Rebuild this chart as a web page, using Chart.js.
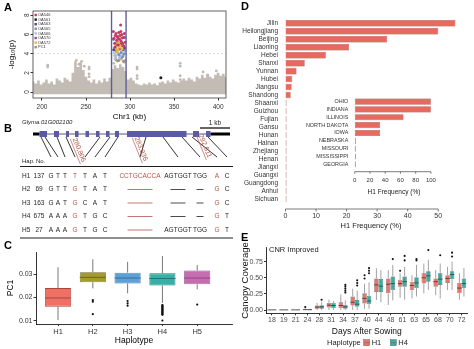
<!DOCTYPE html>
<html>
<head>
<meta charset="utf-8">
<script src="https://cdn.jsdelivr.net/npm/chart.js@4.4.1/dist/chart.umd.min.js"></script>
<style>
html,body{margin:0;padding:0;background:#fff;}
body{width:474px;height:349px;overflow:hidden;position:relative;font-family:"Liberation Sans",Arial,sans-serif;}
.pn{position:absolute;}
.pn canvas{display:block;}
.lbl{position:absolute;font-weight:bold;font-size:11px;line-height:11px;color:#000;}
</style>
</head>
<body>
<div class="pn" style="left:0;top:0"><canvas id="cA" width="236" height="122"></canvas></div>
<div class="pn" style="left:0;top:118px"><canvas id="cB" width="240" height="125"></canvas></div>
<div class="pn" style="left:0;top:240px"><canvas id="cC" width="240" height="109"></canvas></div>
<div class="pn" style="left:240px;top:0"><canvas id="cD" width="234" height="232"></canvas></div>
<div class="pn" style="left:270px;top:88px"><canvas id="cD2" width="175" height="112"></canvas></div>
<div class="pn" style="left:240px;top:232px"><canvas id="cE" width="234" height="117"></canvas></div>
<div class="lbl" style="left:4px;top:2px">A</div>
<div class="lbl" style="left:4px;top:123px">B</div>
<div class="lbl" style="left:4px;top:240px">C</div>
<div class="lbl" style="left:241px;top:1px">D</div>
<div class="lbl" style="left:241px;top:232px">E</div>
<script>
// ===================== DATA =====================
// Panel A
const A_XTICKS = [200, 250, 300, 350, 400];
const A_YTICKS = [0, 2, 4, 6, 8];
const A_REGION = [279, 295.5];
const A_THRESH = 4;
const A_LEGEND = ['OA546','OA561','OA563','OA565','OA566','OA570','OA572','PC1'];
const A_COLORS = ['#c23b67','#1b1b1b','#4d4a6e','#7f8fb5','#a9c1e2','#7a5aa8','#f2b33a','#a1916a'];
const A_BAND_KB = [190,193,196,199,202,205,208,211,214,217,220,223,226,229,232,235,238,241,244,247,250,253,256,259,262,265,268,271,274,277,280,283,286,289,292,295,298,301,304,307,310,313,316,319,322,325,328,331,334,337,340,343,346,349,352,355,358,361,364,367,370,373,376,379,382,385,388,391,394,397,400,403,406,409];
const A_BAND_P  = [1.1,0.9,1.2,0.8,1.0,1.3,0.9,1.1,0.8,1.4,1.2,1.0,1.5,1.3,1.1,2.0,3.2,2.6,3.1,2.3,1.6,1.2,1.0,1.3,0.9,1.2,1.0,1.4,1.1,1.5,2.4,2.8,2.5,2.9,2.6,2.2,1.3,1.5,1.2,0.9,0.8,0.7,0.9,0.8,1.0,0.8,0.9,0.7,1.0,1.1,0.9,1.2,1.0,1.3,1.1,1.0,1.2,1.4,1.2,1.5,1.3,1.1,1.6,1.4,1.8,1.5,1.9,1.6,1.4,1.8,2.0,1.7,1.9,1.6];
const A_GREY_KB = [206.5,206.5,239,242,245,248,253.5,253.5,253.5,253.5,281.5,283.5,285.5,287.5,289.5,291.5,293.5,282.5,286.5,290.5,294.5,308,308,308,308,357,357,357,357,388.5,383,398];
const A_GREY_P  = [2.8,2.6,3.3,2.9,3.2,2.7,2.6,2.4,1.9,1.6,3.0,3.6,3.2,3.9,3.4,3.7,3.1,3.8,4.0,3.5,3.3,2.6,2.4,1.7,1.4,3.0,2.7,1.7,1.3,1.7,2.1,2.2];
const A_OA546_KB = [281.0,281.8,282.6,283.3,284.1,284.9,285.6,286.4,287.2,288.0,288.8,289.3,289.9,290.6,291.4,292.1,292.9,293.6,294.4,283.0,286.0,289.5,291.0];
const A_OA546_P  = [6.3,5.6,5.1,5.9,6.1,5.4,5.8,4.9,6.2,5.5,5.9,7.0,5.3,6.0,5.1,5.7,4.8,6.1,5.2,4.7,5.7,6.3,5.0];
const A_OA561_KB = [335.0,289.0];
const A_OA561_P  = [1.5,5.0];
const A_OA563_KB = [281.5,293.8];
const A_OA563_P  = [4.4,4.6];
const A_OA565_KB = [284.5,287.5,289.8,291.7,293.2];
const A_OA565_P  = [4.3,3.9,4.1,3.7,4.0];
const A_OA566_KB = [282.2,283.9,285.8,287.9,290.2,292.3,294.1,283.1,289.0];
const A_OA566_P  = [4.1,3.8,4.0,3.6,4.2,3.9,4.3,3.5,3.7];
const A_OA570_KB = [281.2,282.4,284.3,286.2,288.3,290.4,292.2,293.9,291.2,285.0];
const A_OA570_P  = [5.5,4.6,5.0,5.2,4.5,5.6,4.4,5.7,4.8,4.9];
const A_OA572_KB = [283.2,284.2,285.1,286.1,287.0,288.0,288.9,289.8,290.8,291.9,285.5,288.2,286.8];
const A_OA572_P  = [5.0,4.6,5.3,4.4,5.1,4.7,5.5,4.9,4.5,5.0,4.2,5.9,5.6];
const A_PC1_KB = [284.0,287.0,290.0,292.6];
const A_PC1_P  = [3.4,3.3,3.6,3.2];

// Panel B (gene model in bp, table content)
const B_GENE_ID = 'Glyma.01G002100';
const B_UTR = [[0,217],[5917,6567]];
const B_EXONS = [[217,467],[700,867],[1100,1200],[1400,1517],[1750,1867],[2100,2217],[2433,2550],[2733,2867],[3133,5117],[5333,5533],[5767,5917]];
const B_SCALE = [5567,6567];
const B_LINK_BP = [267,400,800,1100,2233,2567,2833,3767,4333,4967,5300,5833];
const B_SNP_COL = [3,7,10];
const B_SNP_LABELS = ['280,806','283,836','292,611'];
const B_HEADER = ['Hap.','No.'];
const B_HAPS = ['H1','H2','H3','H4','H5'];
const B_COUNTS = ['137','69','163','675','27'];
const B_ALLELES = [
  ['G','T','T','T','T','A','T','CCTGCACCA','AGTGGT','TGG','A','C'],
  ['G','T','T','G','T','A','T','-','-','-','G','C'],
  ['G','A','T','G','C','A','T','-','-','-','G','C'],
  ['A','A','A','G','T','G','C','-','-','-','G','T'],
  ['A','A','A','G','T','G','C','-','AGTGGT','TGG','G','T']
];

// Panel C: [lower whisker, Q1, median, Q3, upper whisker]
const C_HAPS = ['H1','H2','H3','H4','H5'];
const C_STATS = [
  [0.0104,0.0161,0.0198,0.0240,0.0329],
  [0.0239,0.0265,0.0286,0.0308,0.0363],
  [0.0218,0.0260,0.0283,0.0306,0.0352],
  [0.0177,0.0251,0.0281,0.0303,0.0377],
  [0.0235,0.0256,0.0283,0.0315,0.0338]
];
const C_OUT_H1 = [];
const C_OUT_H2 = [0.0189,0.0182,0.0129];
const C_OUT_H3 = [0.0185,0.0175,0.0165];
const C_OUT_H4 = [0.0168,0.0165,0.0162,0.0159,0.0156,0.0153,0.0150,0.0147,0.0144,0.0141,0.0138,0.0135,0.0132,0.0129,0.0126,0.0102];
const C_OUT_H5 = [0.0170];
const C_YTICKS = [0.01,0.02,0.03];

// Panel D
const D_PROV = ['Jilin','Heilongjiang','Beijing','Liaoning','Hebei','Shanxi','Yunnan','Hubei','Jiangsu','Shandong','Shaanxi','Guizhou','Fujian','Gansu','Hunan','Hainan','Zhejiang','Henan','Jiangxi','Guangxi','Guangdong','Anhui','Sichuan'];
const D_FREQ = [55.6,50.0,33.3,20.8,13.2,6.3,3.6,2.2,2.0,1.7,0,0,0,0,0,0,0,0,0,0,0,0,0];
const D_TICKS = [0,10,20,30,40,50];
const D_STATES = ['OHIO','INDIANA','ILLINOIS','NORTH DAKOTA','IOWA','NEBRASKA','MISSOURI','MISSISSIPPI','GEORGIA'];
const D_STATE_FREQ = [100,100,64,33.3,33.3,0,0,0,0];
const D_STATE_TICKS = [0,20,40,60,80,100];

// Panel E: [lower whisker, Q1, median, Q3, upper whisker]
const E_DAYS = ['18','19','21','24','28','31','34','37','40','44','48','61','63','65','68','70','72'];
const E_YTICKS = [0,0.25,0.5,0.75];
const E_H1 = [
  [0,0,0.002,0.006,0.012],[0,0,0.002,0.006,0.012],[0,0,0.002,0.006,0.012],[0,0.002,0.006,0.012,0.025],
  [0,0.02,0.045,0.07,0.11],[0,0.04,0.075,0.11,0.16],[0,0.03,0.07,0.12,0.24],[0,0.07,0.12,0.21,0.33],
  [0.02,0.10,0.18,0.26,0.41],[0.155,0.28,0.39,0.49,0.647],[0.078,0.26,0.40,0.49,0.62],[0.19,0.36,0.41,0.47,0.57],
  [0.18,0.31,0.38,0.44,0.54],[0.26,0.41,0.50,0.57,0.72],[0.23,0.36,0.44,0.49,0.62],[0.31,0.42,0.49,0.54,0.67],
  [0.16,0.26,0.34,0.42,0.57]
];
const E_H1_OUT = [[],[],[],[0.045],[],[],[],[],[0.49,0.54],[],[],[0.61],[],[],[],[],[]];
const E_H4 = [
  [0,0,0.002,0.006,0.012],[0,0,0.002,0.006,0.012],[0,0,0.002,0.006,0.012],[0,0.001,0.004,0.01,0.02],
  [0,0.02,0.05,0.075,0.12],[0,0.03,0.07,0.11,0.14],[0,0.02,0.05,0.08,0.15],[0,0.05,0.09,0.155,0.30],
  [0.02,0.09,0.14,0.22,0.43],[0.12,0.28,0.37,0.48,0.62],[0.15,0.31,0.41,0.52,0.70],[0.16,0.36,0.44,0.52,0.67],
  [0.21,0.34,0.42,0.51,0.70],[0.31,0.44,0.53,0.60,0.78],[0.18,0.39,0.48,0.57,0.72],[0.31,0.48,0.55,0.60,0.75],
  [0.21,0.34,0.41,0.49,0.65]
];
const E_H4_OUT = [[],[],[],[],[0.16],[],[0.27,0.30,0.33,0.36,0.39],[0.38,0.42,0.46],[0.57,0.61,0.65],[],[0.79],[0.77,0.84],[0.77,0.79],[0.93],[0.85],[0.83,0.89],[]];

// ===================== SETUP =====================
const F = '"Liberation Sans", Arial, sans-serif';
Chart.defaults.font.family = F;
Chart.defaults.color = '#333';
Chart.defaults.animation = false;
Chart.defaults.responsive = false;
Chart.defaults.plugins.legend.display = false;
Chart.defaults.plugins.tooltip.enabled = false;

const pts = (xs, ys) => xs.map((x, i) => ({x: x, y: ys[i]}));

// generic box & whisker drawing on top of floating bars
const boxPlugin = {
  id: 'boxPlugin',
  beforeDatasetsDraw(chart) {
    const ctx = chart.ctx, ys = chart.scales.y;
    chart.data.datasets.forEach((ds, di) => {
      if (!ds.stats) return;
      const meta = chart.getDatasetMeta(di);
      ctx.save();
      ctx.strokeStyle = ds.whiskerColor; ctx.lineWidth = ds.whiskerWidth;
      meta.data.forEach((el, i) => {
        const s = ds.stats[i];
        ctx.beginPath();
        ctx.moveTo(el.x, ys.getPixelForValue(s[0])); ctx.lineTo(el.x, ys.getPixelForValue(s[1]));
        ctx.moveTo(el.x, ys.getPixelForValue(s[3])); ctx.lineTo(el.x, ys.getPixelForValue(s[4]));
        ctx.stroke();
      });
      ctx.restore();
    });
  },
  afterDatasetsDraw(chart) {
    const ctx = chart.ctx, ys = chart.scales.y;
    chart.data.datasets.forEach((ds, di) => {
      if (!ds.stats) return;
      const meta = chart.getDatasetMeta(di);
      ctx.save();
      meta.data.forEach((el, i) => {
        const s = ds.stats[i];
        const w = el.width;
        const ym = ys.getPixelForValue(s[2]);
        ctx.strokeStyle = Array.isArray(ds.medianColor) ? ds.medianColor[i] : ds.medianColor;
        ctx.lineWidth = ds.medianWidth;
        ctx.beginPath(); ctx.moveTo(el.x - w / 2, ym); ctx.lineTo(el.x + w / 2, ym); ctx.stroke();
        ctx.fillStyle = ds.outlierColor;
        (ds.outliers[i] || []).forEach(v => {
          ctx.beginPath(); ctx.arc(el.x, ys.getPixelForValue(v), ds.outlierRadius, 0, Math.PI * 2); ctx.fill();
        });
      });
      ctx.restore();
    });
  }
};

// ===================== PANEL A =====================
const aPlugin = {
  id: 'aPlugin',
  beforeDatasetsDraw(chart) {
    const {ctx, chartArea: ca, scales: {x, y}} = chart;
    ctx.save();
    ctx.strokeStyle = '#cfcfcf'; ctx.lineWidth = 0.8; ctx.setLineDash([2, 2]);
    const yt = y.getPixelForValue(A_THRESH);
    ctx.beginPath(); ctx.moveTo(ca.left, yt); ctx.lineTo(ca.right, yt); ctx.stroke();
    ctx.restore();
  },
  afterDatasetsDraw(chart) {
    const {ctx, chartArea: ca, scales: {x, y}} = chart;
    ctx.save();
    ctx.strokeStyle = '#5d5d9e'; ctx.lineWidth = 1.4;
    A_REGION.forEach(v => {
      const px = x.getPixelForValue(v);
      ctx.beginPath(); ctx.moveTo(px, ca.top); ctx.lineTo(px, ca.bottom); ctx.stroke();
    });
    ctx.strokeStyle = '#3d3d3d'; ctx.lineWidth = 0.8;
    ctx.strokeRect(ca.left, ca.top, ca.right - ca.left, ca.bottom - ca.top);
    // legend
    ctx.font = '4px ' + F; ctx.textBaseline = 'middle'; ctx.textAlign = 'left';
    A_LEGEND.forEach((name, i) => {
      const yy = ca.top + 4 + i * 4.6;
      ctx.fillStyle = A_COLORS[i]; ctx.fillRect(ca.left + 1.5, yy - 1.2, 2.4, 2.4);
      ctx.fillStyle = '#333'; ctx.fillText(name, ca.left + 5, yy);
    });
    ctx.restore();
  }
};
const aSeries = [
  ['OA546', A_OA546_KB, A_OA546_P, 0], ['OA572', A_OA572_KB, A_OA572_P, 6], ['OA570', A_OA570_KB, A_OA570_P, 5],
  ['OA561', A_OA561_KB, A_OA561_P, 1], ['OA563', A_OA563_KB, A_OA563_P, 2], ['OA565', A_OA565_KB, A_OA565_P, 3],
  ['OA566', A_OA566_KB, A_OA566_P, 4], ['PC1', A_PC1_KB, A_PC1_P, 7]
];
const aDatasets = aSeries.map(s => ({
  label: s[0], data: pts(s[1], s[2]), pointRadius: 1.5, pointBorderWidth: 0,
  pointBackgroundColor: A_COLORS[s[3]], showLine: false
}));
aDatasets.push({label: 'grey', data: pts(A_GREY_KB, A_GREY_P), pointRadius: 1.4, pointBorderWidth: 0, pointBackgroundColor: '#c0b9b1', showLine: false});
aDatasets.push({label: 'band', data: pts(A_BAND_KB, A_BAND_P), showLine: true, stepped: 'middle', borderWidth: 0, pointRadius: 0,
  backgroundColor: '#c3bcb4', fill: {value: -0.22}});
new Chart(document.getElementById('cA'), {
  type: 'scatter',
  data: {datasets: aDatasets},
  options: {
    layout: {padding: {left: 0, right: 10, top: 11, bottom: 0}},
    scales: {
      x: {type: 'linear', min: 189.8, max: 409,
        afterBuildTicks: s => { s.ticks = A_XTICKS.map(v => ({value: v})); },
        ticks: {font: {size: 6.5}, color: '#333', padding: 3, maxRotation: 0, autoSkip: false},
        grid: {drawOnChartArea: false, tickLength: 2.5, color: '#333'},
        border: {display: false},
        title: {display: true, text: 'Chr1 (kb)', font: {size: 8}, color: '#000', padding: {top: 0, bottom: 0}},
        afterFit: s => { s.height = 24; }},
      y: {type: 'linear', min: -0.62, max: 8.45,
        afterBuildTicks: s => { s.ticks = A_YTICKS.map(v => ({value: v})); },
        ticks: {font: {size: 6.5}, color: '#333', padding: 1.5, minRotation: 90, maxRotation: 90, crossAlign: 'center'},
        grid: {drawOnChartArea: false, tickLength: 2.5, color: '#333'},
        border: {display: false},
        title: {display: true, text: '-log\u2081\u2080(p)', font: {size: 8}, color: '#000', padding: {top: 7, bottom: 0}},
        afterFit: s => { s.width = 33; }}
    }
  },
  plugins: [aPlugin]
});

// ===================== PANEL B =====================
const GENE_Y = 16, SB_Y = 10;
const segs = (pairs, yv) => pairs.flatMap(p => [{x: p[0], y: yv}, {x: p[1], y: yv}, {x: p[1], y: null}]);
const bPlugin = {
  id: 'bPlugin',
  afterDatasetsDraw(chart) {
    const {ctx, scales: {x: xs, y: ys}} = chart;
    const colX = [51, 58, 65, 75, 85, 95, 105, 140, 178, 200, 217, 227];
    const dashW = [0, 0, 0, 0, 0, 0, 0, 25, 15, 7, 0, 0];
    const brown = '#b0564c', ink = '#1e1e1e';
    ctx.save();
    ctx.textBaseline = 'middle';
    ctx.fillStyle = ink;
    ctx.font = 'italic 6px ' + F; ctx.textAlign = 'left';
    ctx.fillText(B_GENE_ID, 22, 4.5);
    ctx.font = '6.5px ' + F; ctx.textAlign = 'center';
    ctx.fillText('1 kb', (xs.getPixelForValue(B_SCALE[0]) + xs.getPixelForValue(B_SCALE[1])) / 2, 5);
    // connectors
    const yTop = ys.getPixelForValue(GENE_Y) + 3, yBot = 39;
    ctx.lineWidth = 0.9; ctx.strokeStyle = ink;
    B_LINK_BP.forEach((bp, i) => {
      ctx.beginPath(); ctx.moveTo(xs.getPixelForValue(bp), yTop); ctx.lineTo(colX[i], yBot); ctx.stroke();
    });
    // SNP position labels
    const labPos = [[79, 32], [141, 31], [205, 28]];
    ctx.font = '7px ' + F; ctx.fillStyle = brown; ctx.strokeStyle = brown; ctx.lineWidth = 0.6;
    B_SNP_LABELS.forEach((t, i) => {
      ctx.save();
      ctx.translate(labPos[i][0], labPos[i][1]);
      ctx.rotate(68 * Math.PI / 180);
      ctx.textAlign = 'center';
      ctx.fillText(t, 0, 0);
      const w = ctx.measureText(t).width;
      ctx.beginPath(); ctx.moveTo(-w / 2 - 1, 4); ctx.lineTo(w / 2 + 1, 4); ctx.stroke();
      ctx.restore();
    });
    // header and rules
    ctx.fillStyle = ink; ctx.textAlign = 'left'; ctx.font = '6px ' + F;
    ctx.fillText(B_HEADER[0], 22, 43);
    ctx.fillText(B_HEADER[1], 36, 43);
    ctx.strokeStyle = ink; ctx.lineWidth = 1;
    ctx.beginPath(); ctx.moveTo(20, 48.5); ctx.lineTo(233, 48.5); ctx.moveTo(20, 120); ctx.lineTo(233, 120); ctx.stroke();
    // rows
    const rowY = [58, 71.5, 85, 98.5, 112];
    ctx.font = '6.5px ' + F;
    B_HAPS.forEach((h, r) => {
      const yy = rowY[r];
      ctx.fillStyle = ink; ctx.textAlign = 'left'; ctx.fillText(h, 22, yy);
      ctx.textAlign = 'center'; ctx.fillText(B_COUNTS[r], 39, yy);
      B_ALLELES[r].forEach((a, c) => {
        const col = B_SNP_COL.includes(c) ? brown : ink;
        if (a === '-') {
          ctx.strokeStyle = col; ctx.lineWidth = 0.8;
          ctx.beginPath(); ctx.moveTo(colX[c] - dashW[c] / 2, yy); ctx.lineTo(colX[c] + dashW[c] / 2, yy); ctx.stroke();
        } else {
          ctx.fillStyle = col; ctx.fillText(a, colX[c], yy);
        }
      });
    });
    ctx.restore();
  }
};
new Chart(document.getElementById('cB'), {
  type: 'line',
  data: {datasets: [
    {data: segs(B_EXONS, GENE_Y), borderColor: '#5b5aa6', borderWidth: 6, borderCapStyle: 'butt', pointRadius: 0, spanGaps: false},
    {data: segs(B_UTR, GENE_Y), borderColor: '#000', borderWidth: 3.2, borderCapStyle: 'butt', pointRadius: 0, spanGaps: false},
    {data: [{x: B_UTR[0][0], y: GENE_Y}, {x: B_UTR[1][1], y: GENE_Y}], borderColor: '#2d2d55', borderWidth: 0.8, pointRadius: 0},
    {data: [{x: B_SCALE[0], y: SB_Y}, {x: B_SCALE[1], y: SB_Y}], borderColor: '#000', borderWidth: 1.2, pointRadius: 0}
  ]},
  options: {
    layout: {padding: 0},
    scales: {
      x: {type: 'linear', display: false, min: -1100, max: 6900},
      y: {type: 'linear', display: false, min: 0, max: 125, reverse: true}
    }
  },
  plugins: [bPlugin]
});

// ===================== PANEL C =====================
const C_FILL = ['#ef7166', '#a39c2c', '#5ba0d6', '#36b0a7', '#c86cb1'];
const C_LINE = ['#a9473f', '#6c671a', '#3a6d99', '#23786f', '#8b4a7c'];
new Chart(document.getElementById('cC'), {
  type: 'bar',
  data: {datasets: [{
    data: C_STATS.map((s, i) => ({x: i + 1, y: [s[1], s[3]]})),
    backgroundColor: C_FILL, borderColor: C_LINE, borderWidth: 0.8, borderSkipped: false,
    barPercentage: 0.75, categoryPercentage: 1,
    stats: C_STATS, outliers: [C_OUT_H1, C_OUT_H2, C_OUT_H3, C_OUT_H4, C_OUT_H5],
    whiskerColor: '#555', whiskerWidth: 0.8, medianColor: C_LINE, medianWidth: 1, outlierColor: '#111', outlierRadius: 1.1
  }]},
  options: {
    layout: {padding: {top: 12, right: 8, left: 0, bottom: 0}},
    scales: {
      x: {type: 'linear', min: 0.367, max: 6.0, offset: false,
        afterBuildTicks: s => { s.ticks = C_HAPS.map((h, i) => ({value: i + 1})); },
        ticks: {callback: v => C_HAPS[v - 1], font: {size: 7.5}, color: '#333', padding: 1.5, autoSkip: false, maxRotation: 0},
        grid: {drawOnChartArea: false, tickLength: 2, color: '#333', offset: false},
        border: {color: '#000', width: 0.8},
        title: {display: true, text: 'Haplotype', font: {size: 8.5}, color: '#000', padding: {top: 0, bottom: 3.5}},
        afterFit: s => { s.height = 25; }},
      y: {type: 'linear', min: 0.0087, max: 0.0394,
        afterBuildTicks: s => { s.ticks = C_YTICKS.map(v => ({value: v})); },
        ticks: {callback: v => v.toFixed(2), font: {size: 7}, color: '#333', padding: 1},
        grid: {drawOnChartArea: false, tickLength: 2.5, color: '#333'},
        border: {color: '#000', width: 0.8},
        title: {display: true, text: 'PC1', font: {size: 8.5}, color: '#000', padding: {top: 6, bottom: 0}},
        afterFit: s => { s.width = 36; }}
    }
  },
  plugins: [boxPlugin]
});

// ===================== PANEL D =====================
function lemonAxis(ticks, off, len) {
  return {
    id: 'lemon',
    afterDraw(chart) {
      const ctx = chart.ctx, xs = chart.scales.x, y = chart.chartArea.bottom + off;
      ctx.save(); ctx.strokeStyle = '#444'; ctx.lineWidth = 0.7;
      ctx.beginPath();
      ctx.moveTo(xs.getPixelForValue(ticks[0]), y); ctx.lineTo(xs.getPixelForValue(ticks[ticks.length - 1]), y);
      ticks.forEach(v => { const p = xs.getPixelForValue(v); ctx.moveTo(p, y); ctx.lineTo(p, y + len); });
      ctx.stroke(); ctx.restore();
    }
  };
}
function hbarOptions(xmax, ticks, tickFont, labFont, titleFont, tickPad, labPad, titlePadB, padTop, padRight, yw, xh) {
  return {
    indexAxis: 'y',
    layout: {padding: {top: padTop, right: padRight, left: 0, bottom: 0}},
    scales: {
      x: {type: 'linear', min: 0, max: xmax,
        afterBuildTicks: s => { s.ticks = ticks.map(v => ({value: v})); },
        ticks: {font: {size: tickFont}, color: '#333', padding: tickPad, maxRotation: 0, autoSkip: false},
        grid: {display: false, drawTicks: false},
        border: {display: false},
        title: {display: true, text: 'H1 Frequency (%)', font: {size: titleFont}, color: '#222', padding: {top: 0, bottom: titlePadB}},
        afterFit: s => { s.height = xh; }},
      y: {type: 'category', offset: true,
        ticks: {font: {size: labFont}, color: '#333', padding: labPad, autoSkip: false},
        grid: {display: false, drawTicks: false},
        border: {display: false},
        afterFit: s => { s.width = yw; }}
    }
  };
}
new Chart(document.getElementById('cD'), {
  type: 'bar',
  data: {labels: D_PROV, datasets: [{data: D_FREQ, backgroundColor: '#e8695e', borderColor: '#8e3f39', borderWidth: 0.5,
    borderSkipped: false, barPercentage: 0.82, categoryPercentage: 1, minBarLength: 1}]},
  options: hbarOptions(56, D_TICKS, 7, 6.5, 7.5, 9.5, 7.5, 1.9, 19.3, 17.4, 45.5, 29.3),
  plugins: [lemonAxis(D_TICKS, 6.3, 2.5)]
});
new Chart(document.getElementById('cD2'), {
  type: 'bar',
  data: {labels: D_STATES, datasets: [{data: D_STATE_FREQ, backgroundColor: '#e8695e', borderColor: '#8e3f39', borderWidth: 0.5,
    borderSkipped: false, barPercentage: 0.78, categoryPercentage: 1, minBarLength: 1}]},
  options: hbarOptions(103, D_STATE_TICKS, 6, 5.4, 6.5, 8.8, 6.4, 4.1, 3.4, 9.3, 84.7, 31.7),
  plugins: [lemonAxis(D_STATE_TICKS, 3.4, 2)]
});

// ===================== PANEL E =====================
const E_COL_H1 = '#ea7469', E_COL_H4 = '#33b0a4';
const ePlugin = {
  id: 'ePlugin',
  afterDraw(chart) {
    const ctx = chart.ctx, ca = chart.chartArea;
    ctx.save();
    ctx.fillStyle = '#222'; ctx.textBaseline = 'middle'; ctx.textAlign = 'left';
    ctx.font = '7.5px ' + F;
    ctx.fillText('CNR Improved', ca.left + 3, ca.top + 2.5);
    const ly = 110.7;
    ctx.fillText('Haplotype', 87, ly);
    [[E_COL_H1, 'H1', 126.7], [E_COL_H4, 'H4', 153.3]].forEach(k => {
      ctx.fillStyle = k[0]; ctx.fillRect(k[2] - 3, ly - 3, 6, 6);
      ctx.strokeStyle = '#666'; ctx.lineWidth = 0.5; ctx.strokeRect(k[2] - 3, ly - 3, 6, 6);
      ctx.beginPath(); ctx.moveTo(k[2] - 3, ly); ctx.lineTo(k[2] + 3, ly); ctx.stroke();
      ctx.fillStyle = '#222'; ctx.fillText(k[1], k[2] + 5, ly);
    });
    ctx.restore();
  }
};
const eDs = (stats, outs, fill) => ({
  data: stats.map(s => [s[1], s[3]]), backgroundColor: fill, borderColor: '#6a6a6a', borderWidth: 0.6, borderSkipped: false,
  barPercentage: 1, categoryPercentage: 0.76,
  stats: stats, outliers: outs, whiskerColor: '#8a8a8a', whiskerWidth: 0.8, medianColor: '#3a3a3a', medianWidth: 0.8,
  outlierColor: '#111', outlierRadius: 1.05
});
new Chart(document.getElementById('cE'), {
  type: 'bar',
  data: {labels: E_DAYS, datasets: [eDs(E_H1, E_H1_OUT, E_COL_H1), eDs(E_H4, E_H4_OUT, E_COL_H4)]},
  options: {
    layout: {padding: {top: 15.7, right: 6.4, left: 0, bottom: 0}},
    scales: {
      x: {type: 'category', offset: true,
        ticks: {font: {size: 7}, color: '#4d4d4d', padding: 0.5, autoSkip: false, maxRotation: 0},
        grid: {drawOnChartArea: false, tickLength: 2, color: '#333', offset: false},
        border: {color: '#000', width: 0.8},
        title: {display: true, text: 'Days After Sowing', font: {size: 8.5}, color: '#111', padding: {top: 0, bottom: 12.2}},
        afterFit: s => { s.height = 35.7; }},
      y: {type: 'linear', min: -0.051, max: 0.967,
        afterBuildTicks: s => { s.ticks = E_YTICKS.map(v => ({value: v})); },
        ticks: {callback: v => v.toFixed(2), font: {size: 7}, color: '#4d4d4d', padding: 1},
        grid: {drawOnChartArea: false, tickLength: 2, color: '#333'},
        border: {color: '#000', width: 0.8},
        title: {display: true, text: 'Canopy Coverage', font: {size: 9.5}, color: '#111', padding: {top: 0, bottom: 0}},
        afterFit: s => { s.width = 26; }}
    }
  },
  plugins: [boxPlugin, ePlugin]
});
</script>
</body>
</html>
